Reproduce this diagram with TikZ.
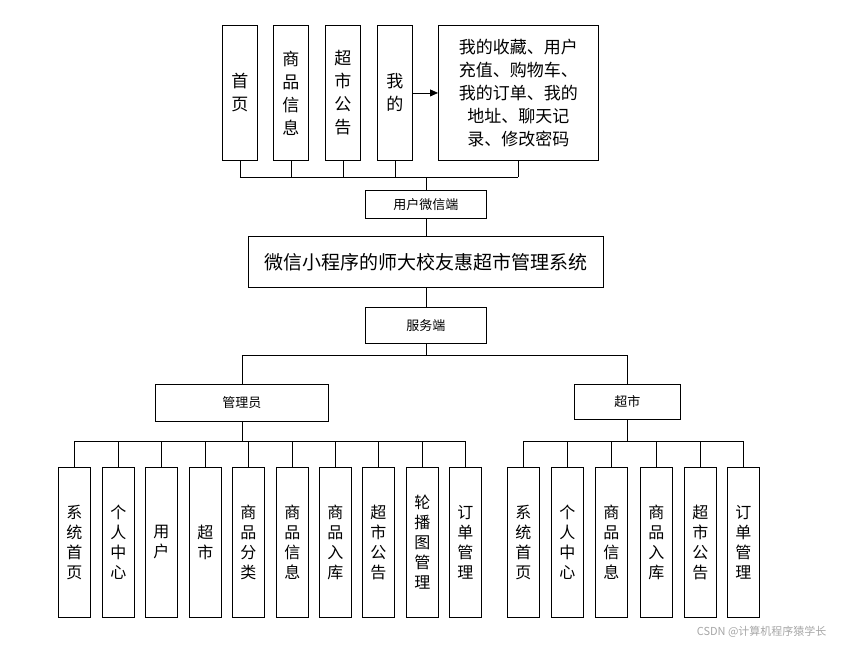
\documentclass[tikz,border=0pt]{standalone}
\usepackage{fontspec}
\setmainfont{Noto Sans CJK SC}
\usetikzlibrary{arrows.meta}
\begin{document}
\begin{tikzpicture}[x=1pt,y=-1pt,
  bx/.style={draw,line width=0.9pt,inner sep=0pt,font=\fontsize{15}{19}\selectfont,align=center},
  tp/.style={font=\fontsize{17}{23}\selectfont},
  ln/.style={line width=0.8pt}]
\useasboundingbox (0,0) rectangle (843,647);
% top
\node[bx,tp,anchor=north west,minimum width=35,minimum height=135] (t1) at (222,25) {首\\页};
\node[bx,tp,anchor=north west,minimum width=35,minimum height=135] (t2) at (273,25) {商\\品\\信\\息};
\node[bx,tp,anchor=north west,minimum width=35,minimum height=135] (t3) at (325,25) {超\\市\\公\\告};
\node[bx,tp,anchor=north west,minimum width=35,minimum height=135] (t4) at (377,25) {我\\的};
\node[bx,tp,anchor=north west,minimum width=160,minimum height=135,font=\fontsize{17}{23}\selectfont] (t5) at (438,25) {我的收藏、用户\\充值、购物车、\\我的订单、我的\\地址、聊天记\\录、修改密码};
\draw[ln,-{Triangle[length=8pt,width=7pt]}] (t4.east) -- (t4.east -| t5.west);
\coordinate (bus) at (0,177);
\foreach \n in {t1,t2,t3,t4,t5} \draw[ln] (\n.south) -- (\n.south |- bus);
\draw[ln] (t1.south |- bus) -- (t5.south |- bus);
\node[bx,anchor=north west,minimum width=121,minimum height=28,font=\fontsize{13}{16}\selectfont] (wx) at (365,190) {用户微信端};
\draw[ln] (wx.north) -- (wx.north |- bus);
\node[bx,anchor=north west,minimum width=355,minimum height=51,font=\fontsize{19}{22}\selectfont] (main) at (248,236) {微信小程序的师大校友惠超市管理系统};
\draw[ln] (wx.south) -- (main.north);
\node[bx,anchor=north west,minimum width=121,minimum height=36,font=\fontsize{13}{16}\selectfont] (fw) at (365,307) {服务端};
\draw[ln] (main.south) -- (fw.north);
\node[bx,anchor=north west,minimum width=173,minimum height=37,font=\fontsize{13}{16}\selectfont] (gl) at (155,384) {管理员};
\node[bx,anchor=north west,minimum width=106,minimum height=35,font=\fontsize{13}{16}\selectfont] (cs) at (574,384) {超市};
\coordinate (b2) at (0,355);
\draw[ln] (fw.south) -- (fw.south |- b2);
\draw[ln] (gl.north |- b2) -- (cs.north |- b2);
\draw[ln] (gl.north |- b2) -- (gl.north);
\draw[ln] (cs.north |- b2) -- (cs.north);
\coordinate (b3) at (0,441);
\foreach \x/\t [count=\i] in {58/系\\统\\首\\页,102/个\\人\\中\\心,145/用\\户,189/超\\市,232/商\\品\\分\\类,276/商\\品\\信\\息,319/商\\品\\入\\库,362/超\\市\\公\\告,406/轮\\播\\图\\管\\理,449/订\\单\\管\\理}{
  \node[bx,anchor=north west,minimum width=32,minimum height=150,font=\fontsize{16}{20}\selectfont] (a\i) at (\x,467) {\t};
  \draw[ln] (a\i.north) -- (a\i.north |- b3);}
\draw[ln] (a1.north |- b3) -- (a10.north |- b3);
\draw[ln] (gl.south) -- (gl.south |- b3);
\foreach \x/\t [count=\i] in {507/系\\统\\首\\页,551/个\\人\\中\\心,595/商\\品\\信\\息,640/商\\品\\入\\库,684/超\\市\\公\\告,727/订\\单\\管\\理}{
  \node[bx,anchor=north west,minimum width=32,minimum height=150,font=\fontsize{16}{20}\selectfont] (c\i) at (\x,467) {\t};
  \draw[ln] (c\i.north) -- (c\i.north |- b3);}
\draw[ln] (c1.north |- b3) -- (c6.north |- b3);
\draw[ln] (cs.south) -- (cs.south |- b3);
\node[text=gray!70,font=\fontsize{11}{13}\selectfont,anchor=east] (wm) at (830,632) {CSDN @计算机程序猿学长};
\end{tikzpicture}
\end{document}
